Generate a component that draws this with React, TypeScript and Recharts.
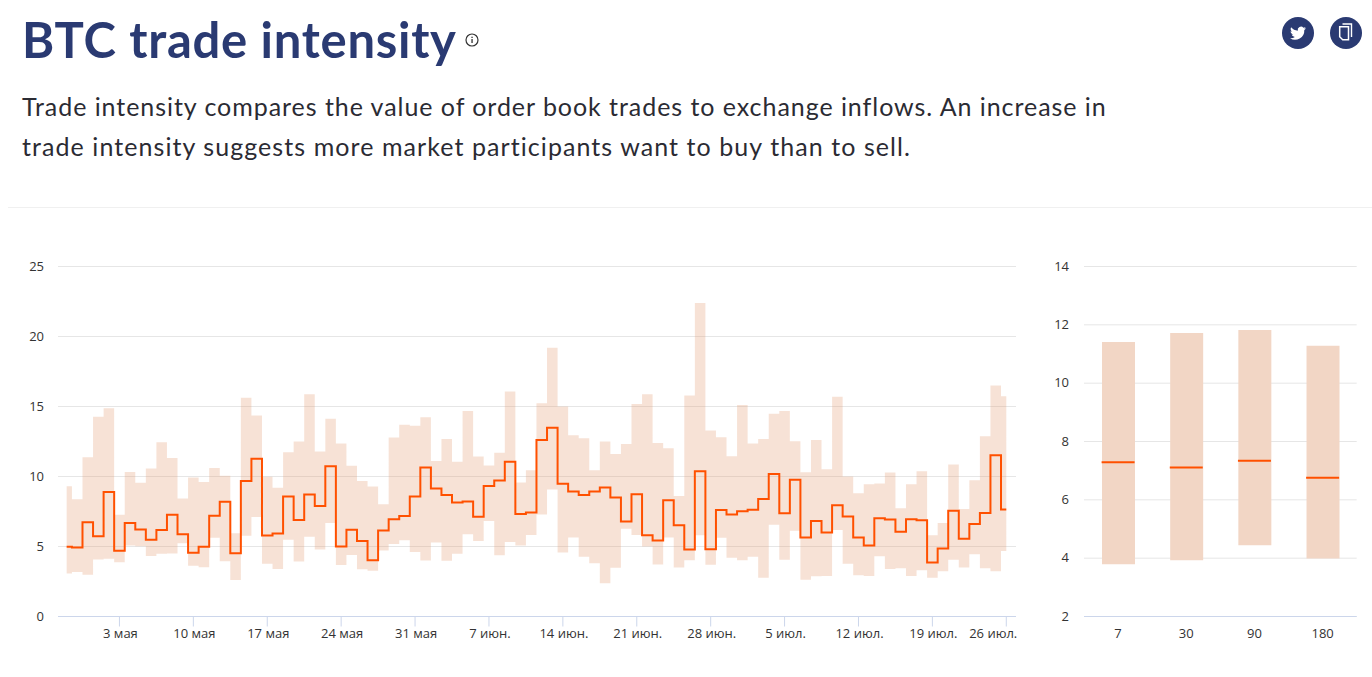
import React from 'react';
import { ComposedChart, Area, Line, Bar, XAxis, YAxis, CartesianGrid } from 'recharts';

const highs = [
  9.31, 8.38, 11.38, 14.26, 14.88, 7.26, 10.33, 9.55, 10.57, 12.45,
  11.33, 8.43, 9.93, 9.6, 10.6, 10.05, 5.95, 15.62, 14.36, 9.98,
  9.19, 11.74, 12.5, 15.88, 11.79, 14.12, 12.36, 10.76, 9.67, 9.29,
  8.02, 12.79, 13.69, 13.62, 14.24, 11.1, 12.67, 11.05, 14.67, 11.43,
  10.79, 11.69, 16.07, 9.57, 10.45, 15.24, 19.19, 15.0, 12.95, 12.74,
  10.45, 12.5, 11.6, 12.33, 15.17, 15.88, 12.4, 12.02, 8.6, 15.79,
  22.4, 13.29, 12.81, 11.45, 15.1, 12.36, 12.67, 14.48, 14.67, 12.52,
  10.31, 12.6, 10.52, 15.69, 10.0, 8.81, 9.45, 9.5, 10.29, 7.74,
  9.45, 10.38, 5.81, 6.67, 10.86, 7.67, 9.74, 12.88, 16.5, 15.74,
];
const lows = [
  3.07, 3.17, 2.98, 4.07, 4.12, 3.88, 5.07, 5.02, 4.33, 4.48,
  4.5, 5.24, 3.62, 3.52, 5.62, 3.95, 2.6, 5.76, 7.1, 3.76,
  3.4, 5.48, 3.93, 5.69, 4.79, 6.67, 3.67, 4.4, 3.38, 3.26,
  4.71, 5.17, 5.45, 4.6, 4.0, 5.29, 3.98, 4.48, 5.88, 5.4,
  6.83, 4.38, 5.33, 5.07, 5.83, 7.29, 9.07, 4.57, 5.64, 4.26,
  3.81, 2.38, 3.48, 6.26, 5.83, 5.0, 3.71, 5.64, 3.5, 4.02,
  5.81, 3.69, 5.62, 4.19, 4.02, 4.26, 2.76, 6.55, 4.05, 6.12,
  2.62, 2.88, 2.9, 6.17, 3.76, 2.95, 2.9, 4.31, 3.4, 3.45,
  2.9, 3.31, 2.76, 3.24, 4.05, 3.5, 4.45, 3.45, 3.24, 4.67,
];
const intensity = [
  4.98, 4.93, 6.74, 5.74, 8.9, 4.69, 6.67, 6.21, 5.48, 6.17,
  7.26, 5.88, 4.55, 4.98, 7.19, 8.19, 4.52, 9.67, 11.26, 5.79,
  5.93, 8.57, 6.9, 8.71, 7.9, 10.74, 5.0, 6.19, 5.4, 4.02,
  6.14, 6.95, 7.17, 8.57, 10.64, 9.14, 8.67, 8.14, 8.21, 7.12,
  9.33, 9.71, 11.05, 7.33, 7.43, 12.6, 13.48, 9.48, 8.93, 8.67,
  8.93, 9.21, 8.5, 6.79, 8.74, 5.81, 5.43, 8.31, 6.52, 4.79,
  10.38, 4.81, 7.6, 7.29, 7.52, 7.62, 8.4, 10.17, 7.38, 9.76,
  5.64, 6.83, 6.0, 7.95, 7.14, 5.64, 5.07, 7.02, 6.93, 6.05,
  6.95, 6.88, 3.86, 4.86, 7.55, 5.55, 6.6, 7.4, 11.52, 7.64,
];
const dateTicks = [5, 12, 19, 26, 33, 40, 47, 54, 61, 68, 75, 82, 89];
const dateLabels = [
  '3 мая', '10 мая', '17 мая', '24 мая', '31 мая', '7 июн.', '14 июн.',
  '21 июн.', '28 июн.', '5 июл.', '12 июл.', '19 июл.', '26 июл.',
];
const leftTicks = [0, 5, 10, 15, 20, 25];

const windows = ['7', '30', '90', '180'];
const windowHighs = [11.41, 11.72, 11.82, 11.28];
const windowLows = [3.79, 3.93, 4.44, 3.99];
const windowMedians = [7.29, 7.11, 7.34, 6.76];
const rightTicks = [2, 4, 6, 8, 10, 12, 14];

const dailyRows = intensity.map((v, i) => ({ i, mid: v, range: [lows[i], highs[i]] }));
const windowRows = windows.map((w, i) => ({
  name: w,
  median: windowMedians[i],
  range: [windowLows[i], windowHighs[i]],
}));

const NAVY = '#2a3a72';
const ORANGE = '#ff5000';
const tickStyle = { fill: '#333333', fontSize: 13, fontFamily: '"Open Sans", sans-serif' };
const yTickStyle = { ...tickStyle, dy: -0.5 };

const MedianMark = (p: any) => (
  <line key={p.index} x1={p.cx - 16.5} x2={p.cx + 16.5} y1={p.cy} y2={p.cy} stroke={ORANGE} strokeWidth={2} />
);

// the last date label is pulled back so it stays inside the plot
const DateTick = ({ x, y, payload }: any) => {
  const last = payload.value === dateTicks[dateTicks.length - 1];
  return (
    <text x={last ? x + 11 : x + 1} y={y} dy="0.7em" textAnchor={last ? 'end' : 'middle'} {...tickStyle}>
      {dateLabels[dateTicks.indexOf(payload.value)]}
    </text>
  );
};

export default function App() {
  return (
    <div style={{ position: 'absolute', left: 0, top: 0, width: 1372, height: 677, background: '#fff', overflow: 'hidden' }}>
      <div style={{ position: 'absolute', left: 22, top: 9, fontFamily: 'Lato, sans-serif', fontWeight: 700, fontSize: 49, lineHeight: '60px', letterSpacing: 0.72, color: NAVY, whiteSpace: 'nowrap' }}>
        BTC trade intensity
      </div>
      <svg style={{ position: 'absolute', left: 464, top: 32 }} width={16} height={16} viewBox="0 0 16 16">
        <circle cx={8} cy={8} r={6} fill="none" stroke="#333" strokeWidth={1.2} />
        <rect x={7.4} y={7} width={1.3} height={4} fill="#333" />
        <rect x={7.4} y={4.7} width={1.3} height={1.3} fill="#333" />
      </svg>
      <div style={{ position: 'absolute', left: 22, top: 86, fontFamily: 'Lato, sans-serif', fontSize: 25, lineHeight: '40px', color: '#2b2b33', whiteSpace: 'nowrap', letterSpacing: 0.95 }}>
        Trade intensity compares the value of order book trades to exchange inflows. An increase in<br />
        <span style={{ letterSpacing: 1.07 }}>trade intensity suggests more market participants want to buy than to sell.</span>
      </div>
      <svg style={{ position: 'absolute', left: 1282, top: 17 }} width={32} height={32} viewBox="0 0 32 32">
        <circle cx={16} cy={16} r={16} fill={NAVY} />
        <path d="M24 11.2c-.6.3-1.2.4-1.9.5.7-.4 1.2-1 1.4-1.8-.6.4-1.3.6-2.1.8a3.3 3.3 0 0 0-5.6 3c-2.7-.1-5.1-1.4-6.7-3.4-.9 1.5-.4 3.4 1 4.4-.5 0-1-.2-1.5-.4 0 1.6 1.1 2.9 2.6 3.2-.5.1-1 .2-1.5.1.4 1.3 1.6 2.2 3.1 2.3A6.600 6.600 0 0 1 8 21.200a9.300 9.300 0 0 0 14.300-8.300c.7-.4 1.200-1 1.700-1.700z" fill="#fff" />
      </svg>
      <svg style={{ position: 'absolute', left: 1330, top: 17 }} width={32} height={32} viewBox="0 0 32 32">
        <circle cx={16} cy={16} r={16} fill={NAVY} />
        <path d="M12.500 7h9v13" fill="none" stroke="#fff" strokeWidth={1.4} />
        <path d="M9.700 9.800h8.800v13h-5.800l-3-3z" fill="none" stroke="#fff" strokeWidth={1.5} />
      </svg>
      <div style={{ position: 'absolute', left: 8, top: 207, width: 1364, height: 1, background: '#f0f0f0' }} />

      <div style={{ position: 'absolute', left: 0, top: 240 }}>
        <ComposedChart width={1030} height={411} data={dailyRows} margin={{ top: 26.5, right: 14, bottom: 0.5, left: 0 }}>
          <CartesianGrid horizontal vertical={false} stroke="#e6e6e6" />
          <XAxis
            dataKey="i"
            type="number"
            domain={[-0.82, 89.92]}
            ticks={dateTicks}
            interval={0}
            height={34}
            tick={<DateTick />}
            tickSize={10}
            tickMargin={2}
            stroke="#ccd6eb"
          />
          <YAxis
            width={58}
            domain={[0, 25]}
            ticks={leftTicks}
            interval={0}
            axisLine={false}
            tickLine={false}
            tickMargin={8}
            tick={yTickStyle}
          />
          <Area dataKey="range" type="step" fill="#e49e76" fillOpacity={0.3} stroke="none" dot={false} activeDot={false} isAnimationActive={false} />
          <Line dataKey="mid" type="step" stroke={ORANGE} strokeWidth={2} dot={false} activeDot={false} isAnimationActive={false} />
        </ComposedChart>
      </div>

      <div style={{ position: 'absolute', left: 1040, top: 240 }}>
        <ComposedChart width={332} height={411} data={windowRows} margin={{ top: 26.5, right: 15.3, bottom: 0.5, left: 0 }}>
          <CartesianGrid horizontal vertical={false} stroke="#e6e6e6" />
          <XAxis dataKey="name" height={34} tick={tickStyle} tickLine={false} tickMargin={6} stroke="#ccd6eb" interval={0} />
          <YAxis
            width={44}
            domain={[2, 14]}
            ticks={rightTicks}
            interval={0}
            axisLine={false}
            tickLine={false}
            tickMargin={9}
            tick={yTickStyle}
          />
          <Bar dataKey="range" barSize={33} fill="#f2d6c5" isAnimationActive={false} />
          <Line dataKey="median" stroke="none" dot={MedianMark} activeDot={false} isAnimationActive={false} />
        </ComposedChart>
      </div>
    </div>
  );
}
